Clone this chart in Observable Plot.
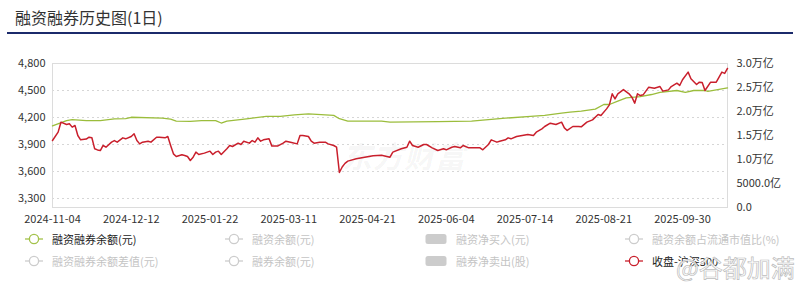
<!DOCTYPE html>
<html>
<head>
<meta charset="utf-8">
<script src="https://cdn.jsdelivr.net/npm/d3@7"></script>
<script src="https://cdn.jsdelivr.net/npm/@observablehq/plot@0.6"></script>
<style>
  html, body { margin: 0; padding: 0; background: #fff; }
  #wrap { position: relative; width: 800px; height: 296px; overflow: hidden;
          font-family: "Noto Sans CJK SC", "Noto Sans", sans-serif; }
  #title { position: absolute; left: 15px; top: 5px; font-size: 16px; color: #333; white-space: nowrap; }
  #rule { position: absolute; left: 7px; top: 32px; width: 786px; height: 2px; background: #1b2a6b; }
  #wm1 { position: absolute; left: 342px; top: 133px; font-size: 30px; font-weight: bold; font-style: italic;
         color: rgba(0,0,0,0.05); letter-spacing: 1px; white-space: nowrap; }
  #chart { position: absolute; left: 0; top: 40px; }
  .lg { position: absolute; font-size: 11px; white-space: nowrap; display: flex; align-items: center; height: 16px; }
  .lg svg { margin-right: 9px; }
  #wm2 { position: absolute; left: 676px; top: 249px; font-size: 24px; color: rgba(255,255,255,0.85);
         -webkit-text-stroke: 0.7px #bdbdbd; white-space: nowrap; }
</style>
</head>
<body>
<div id="wrap">
  <div id="title">融资融券历史图(1日)</div>
  <div id="rule"></div>
  <div id="wm1">东方财富</div>
  <div id="chart"></div>
  <div id="legend"></div>
  <div id="wm2">@谷都加满</div>
</div>
<script>
// ---- axis ticks / labels ----
const xTickIndex = [0, 28, 56, 84, 112, 140, 168, 196, 224];
const xTickLabels = ["2024-11-04","2024-12-12","2025-01-22","2025-03-11","2025-04-21","2025-06-04","2025-07-14","2025-08-21","2025-09-30"];
const leftTicks = [3300, 3600, 3900, 4200, 4500, 4800];
const rightTicks = [0, 0.5, 1.0, 1.5, 2.0, 2.5, 3.0];           // 万亿元
const rightLabels = ["0.0","5000.0亿","1.0万亿","1.5万亿","2.0万亿","2.5万亿","3.0万亿"];

// ---- 收盘-沪深300 (trading-day index, close) ----
const csiDay = [0,2,3,5,6,7,8,9,10,12,13,14,15,16,17,18,19,21,22,23,25,26,28,29,30,31,32,34,35,37,38,40,41,42,43,44,46,47,48,49,50,51,52,54,56,57,58,59,60,62,63,64,66,67,68,70,71,72,73,74,75,77,78,80,82,83,85,87,88,89,91,92,93,95,97,98,100,101,102,103,104,105,108,111,114,117,120,121,124,126,127,128,130,132,133,135,137,139,140,142,143,145,146,148,150,152,153,155,156,158,159,161,162,163,165,167,169,171,172,174,175,177,179,181,182,183,185,187,188,190,192,194,195,197,198,199,200,201,203,205,206,207,208,209,210,212,214,216,217,219,220,222,223,224,226,227,229,230,231,232,234,236,238,239,240];
const csiClose = [3944,4037,4148,4122,4130,4093,4111,4000,3952,3960,3981,3975,3852,3840,3833,3889,3870,3926,3944,3926,3974,3963,3989,4019,3944,3907,3926,3937,3926,3981,3981,3974,3989,3889,3796,3767,3787,3778,3767,3722,3759,3815,3789,3804,3826,3789,3815,3826,3789,3852,3889,3878,3915,3900,3937,3915,3944,3926,3974,3937,3952,3963,3882,3882,3915,3937,3922,3907,4000,4000,3989,3937,3915,3926,3926,3907,3889,3870,3589,3650,3690,3715,3741,3759,3774,3780,3759,3815,3852,3870,3937,3889,3870,3900,3900,3863,3833,3852,3841,3870,3878,3863,3889,3863,3863,3863,3841,3900,3952,3926,3937,3952,3974,3963,3989,4000,4011,4000,4037,4074,4100,4137,4122,4148,4085,4056,4100,4100,4096,4148,4174,4233,4222,4296,4340,4463,4407,4463,4510,4463,4426,4359,4463,4444,4452,4537,4526,4544,4493,4507,4544,4581,4556,4619,4704,4630,4567,4593,4590,4500,4593,4593,4704,4690,4745];

// ---- 融资融券余额 (trading-day index, 万亿元) ----
const balDay = [0,5,7,12,17,22,26,28,39,42,44,49,53,58,60,62,69,76,81,86,91,100,102,105,112,117,120,137,149,161,170,175,181,184,188,193,196,198,201,204,209,213,216,222,225,228,232,233,236,240];
const balValue = [1.70,1.81,1.83,1.81,1.81,1.847,1.85,1.88,1.86,1.84,1.80,1.795,1.81,1.81,1.76,1.80,1.847,1.90,1.90,1.93,1.95,1.92,1.85,1.80,1.80,1.80,1.78,1.79,1.80,1.86,1.90,1.92,1.965,1.985,2.006,2.05,2.146,2.146,2.215,2.285,2.31,2.354,2.40,2.4375,2.40,2.4375,2.4375,2.42,2.45,2.49];

// ---- legend ----
const legendItems = [
  {label: "融资融券余额(元)", kind: "line", color: "#a3c24a", active: true},
  {label: "融资余额(元)", kind: "line", color: "#cccccc", active: false},
  {label: "融资净买入(元)", kind: "rect", color: "#cccccc", active: false},
  {label: "融资余额占流通市值比(%)", kind: "line", color: "#cccccc", active: false},
  {label: "融资融券余额差值(元)", kind: "line", color: "#cccccc", active: false},
  {label: "融券余额(元)", kind: "line", color: "#cccccc", active: false},
  {label: "融券净卖出(股)", kind: "rect", color: "#cccccc", active: false},
  {label: "收盘-沪深300", kind: "line", color: "#c91f2c", active: true}
];

const RED = "#c91f2c", GREEN = "#9bbd3c";
const yMin = 3200, yMax = 4800, rMax = 3.0;
const toLeft = v => yMin + v / rMax * (yMax - yMin);

const csi = csiDay.map((d, i) => ({day: d, value: csiClose[i]}));
const bal = balDay.map((d, i) => ({day: d, value: balValue[i]}));

const chart = Plot.plot({
  width: 800,
  height: 200,
  marginTop: 23,
  marginBottom: 33,
  marginLeft: 52,
  marginRight: 73,
  style: {background: "transparent", fontFamily: "'Noto Sans CJK SC', 'Noto Sans', sans-serif", fontSize: "11px", color: "#333"},
  x: {domain: [0, 240], axis: null},
  y: {domain: [yMin, yMax], axis: null},
  marks: [
    Plot.gridY(leftTicks.filter(t => t < yMax), {stroke: "#d6d6d6", strokeOpacity: 1, strokeDasharray: "2,3"}),
    Plot.frame({stroke: "#dcdcdc"}),
    Plot.axisY(leftTicks, {anchor: "left", label: null, tickSize: 0, tickPadding: 7, tickFormat: d3.format(","), fill: "#333", fontSize: 11}),
    Plot.axisY(rightTicks.map(toLeft), {anchor: "right", label: null, tickSize: 0, tickPadding: 9, tickFormat: (d, i) => rightLabels[i], fill: "#333", fontSize: 11}),
    Plot.axisX(xTickIndex, {anchor: "bottom", label: null, tickSize: 0, tickPadding: 8, tickFormat: (d, i) => xTickLabels[i], fill: "#333", fontSize: 11}),
    Plot.line(bal, {x: "day", y: d => toLeft(d.value), stroke: GREEN, strokeWidth: 1.3}),
    Plot.line(csi, {x: "day", y: "value", stroke: RED, strokeWidth: 1.5})
  ]
});
document.getElementById("chart").appendChild(chart);

const legend = document.getElementById("legend");
legendItems.forEach((it, i) => {
  const col = i % 4, row = Math.floor(i / 4);
  const div = document.createElement("div");
  div.className = "lg";
  div.style.left = (25 + col * 200) + "px";
  div.style.top = (231 + row * 22) + "px";
  div.style.color = it.active ? "#222" : "#c4c4c4";
  const icon = it.kind === "rect"
    ? `<svg width="22" height="12"><rect x="0.5" y="1" width="21" height="10" rx="2.5" fill="${it.color}"/></svg>`
    : `<svg width="18" height="12"><line x1="0" y1="6" x2="18" y2="6" stroke="${it.color}" stroke-width="1.3"/><circle cx="9" cy="6" r="4.6" fill="#fff" stroke="${it.color}" stroke-width="1.3"/></svg>`;
  div.innerHTML = icon + `<span>${it.label}</span>`;
  legend.appendChild(div);
});
</script>
</body>
</html>
